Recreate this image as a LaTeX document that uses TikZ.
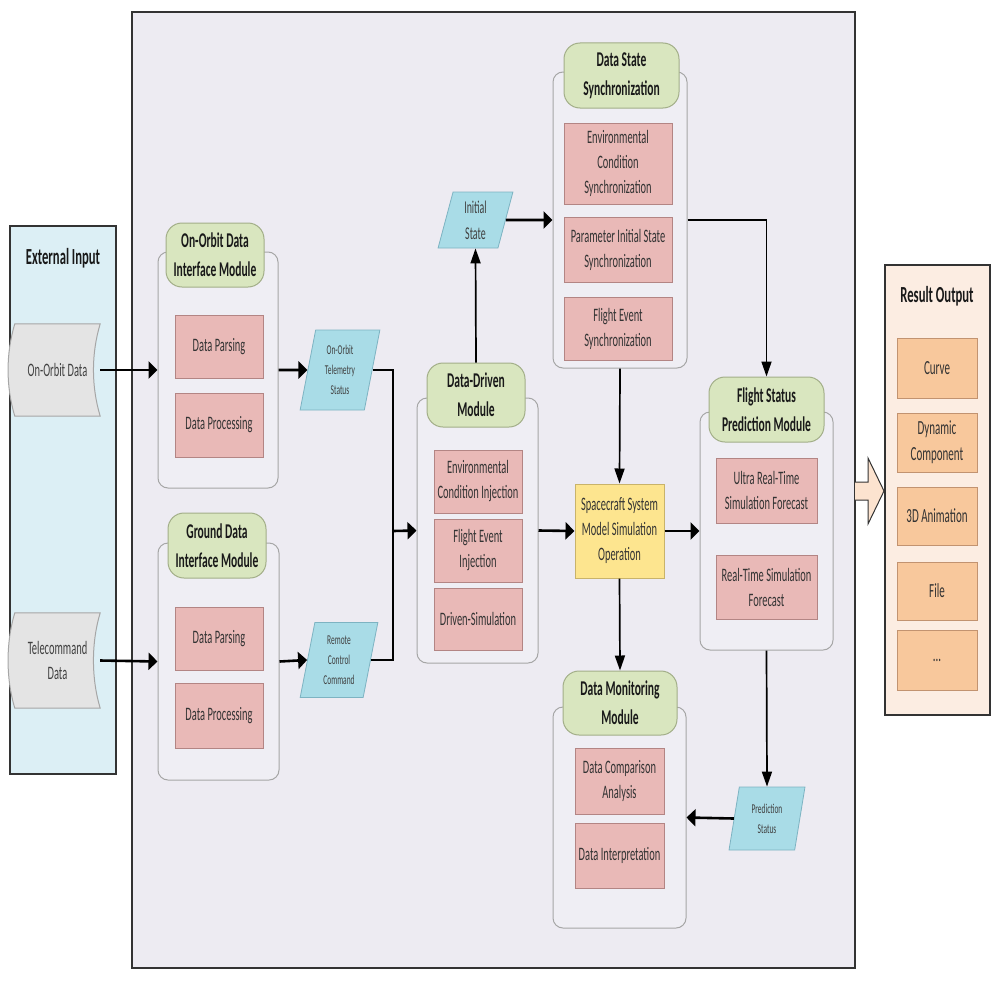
\documentclass[tikz,border=0pt]{standalone}
\usepackage{fontspec}
\setmainfont{Carlito}[FakeStretch=0.55]
\usetikzlibrary{arrows.meta,shapes.geometric,backgrounds}
\definecolor{extfill}{HTML}{DCEFF5}
\definecolor{mainfill}{HTML}{EDEBF2}
\definecolor{resfill}{HTML}{FCEDE2}
\definecolor{modfill}{HTML}{EFEEF4}
\definecolor{headfill}{HTML}{D9E6BF}
\definecolor{headline}{HTML}{A2AE88}
\definecolor{itemfill}{HTML}{E9B9B7}
\definecolor{itemline}{HTML}{B38584}
\definecolor{iofill}{HTML}{A9DCE7}
\definecolor{ioline}{HTML}{7DB3C2}
\definecolor{simfill}{HTML}{FDE58F}
\definecolor{simline}{HTML}{C9B36A}
\definecolor{outfill}{HTML}{F8C89C}
\definecolor{outborder}{HTML}{C29370}
\definecolor{tapefill}{HTML}{E4E4E4}
\definecolor{arrowfill}{HTML}{FCE3CF}
\newcommand{\fs}[2]{\fontsize{#1}{#2}\selectfont}
\tikzset{
  panel/.style     = {draw=black!80,line width=1.6pt},
  paneltitle/.style= {font=\bfseries\fs{23}{28},text=black!90},
  harr/.style      = {-{Triangle[length=9pt,width=17pt]},line width=2.6pt},
  varr/.style      = {-{Triangle[length=15pt,width=10pt]},line width=1.7pt},
  joinline/.style  = {line width=2.6pt},
  bigarrow/.style  = {draw=black!80,fill=arrowfill,line width=1pt},
  modframe/.style  = {draw=black!35,fill=modfill,rounded corners=10pt,line width=1pt,inner sep=0pt},
  modhead/.style   = {draw=headline,fill=headfill,rounded corners=16pt,line width=1pt,
                      align=center,inner sep=0pt,font=\bfseries\fs{21}{29},text=black!90},
  subbox/.style    = {draw=itemline,fill=itemfill,line width=1pt,align=center,inner sep=0pt,
                      font=\fs{19}{25},text=black!80},
  simbox/.style    = {subbox,draw=simline,fill=simfill},
  outbox/.style    = {subbox,draw=outborder,fill=outfill,font=\fs{20}{26}},
  dataio/.style    = {trapezium,trapezium left angle=79,trapezium right angle=101,
                      trapezium stretches=true,draw=ioline,fill=iofill,line width=0.8pt,
                      align=center,inner sep=0pt,font=\fs{13.5}{20},text=black!75},
  tapebox/.style   = {align=center,inner sep=0pt,font=\fs{19}{25},text=black!75},
  tapeline/.style  = {draw=black!35,fill=tapefill,line width=1pt}
}
\newcommand{\tapeshape}[1]{%
  \filldraw[tapeline] (#1.north west) .. controls +(-9pt,-30pt) and +(-9pt,30pt) .. (#1.south west)
    -- (#1.south east) .. controls +(-9pt,30pt) and +(-9pt,-30pt) .. (#1.north east) -- cycle;
}

\begin{document}
\begin{tikzpicture}[x=1pt,y=-1pt]
  \useasboundingbox (0,0) rectangle (1000,982);
  \begin{pgfonlayer}{background}
    \filldraw[panel,fill=extfill]  (10,226) rectangle (116,774);
    \filldraw[panel,fill=mainfill] (132,12) rectangle (855,968);
    \filldraw[panel,fill=resfill]  (885,265) rectangle (990,715);
  \end{pgfonlayer}
  \draw[bigarrow] (855,482) -- (868,482) -- (868,458) -- (884,491) -- (868,524) -- (868,500) -- (855,500);

  \node[paneltitle] (exttitle) at (63,258) {External Input};
  \node[tapebox,minimum width=85pt,minimum height=92pt] (orbdata) at (57.5,370) {On-Orbit Data};
  \node[tapebox,minimum width=85pt,minimum height=95pt] (tcdata) at (57.5,660.5) {Telecommand\\Data};
  \begin{pgfonlayer}{background}
    \tapeshape{orbdata}
    \tapeshape{tcdata}
  \end{pgfonlayer}

  \node[modframe,minimum width=120pt,minimum height=236pt] (orbmod) at (218,370) {};
  \node[modhead,minimum width=98pt,minimum height=64pt] (orbhead) at (215,255) {On-Orbit Data\\Interface Module};
  \node[subbox,minimum width=88pt,minimum height=63pt] (orbparse) at (219,346.5) {Data Parsing};
  \node[subbox,minimum width=88pt,minimum height=64pt] (orbproc) at (219,425) {Data Processing};

  \node[modframe,minimum width=121pt,minimum height=237pt] (gndmod) at (218.5,661.5) {};
  \node[modhead,minimum width=98pt,minimum height=65pt] (gndhead) at (217,545.5) {Ground Data\\Interface Module};
  \node[subbox,minimum width=88pt,minimum height=63pt] (gndparse) at (219,638.5) {Data Parsing};
  \node[subbox,minimum width=88pt,minimum height=65pt] (gndproc) at (219,715.5) {Data Processing};

  \node[dataio,minimum width=80pt,minimum height=80pt] (tmstat) at (340,370) {On-Orbit\\Telemetry\\Status};
  \node[dataio,minimum width=78pt,minimum height=75pt] (rcmd) at (339,660) {Remote\\Control\\Command};
  \coordinate (ddjoin) at (393,531);

  \node[modframe,minimum width=121pt,minimum height=265pt] (ddmod) at (477.5,530.5) {};
  \node[modhead,minimum width=98pt,minimum height=64pt] (ddhead) at (476,395) {Data-Driven\\Module};
  \node[subbox,minimum width=88pt,minimum height=63pt] (ddenv) at (478,481.5) {Environmental\\Condition Injection};
  \node[subbox,minimum width=88pt,minimum height=63pt] (ddflt) at (478,550.5) {Flight Event\\Injection};
  \node[subbox,minimum width=88pt,minimum height=62pt] (ddsim) at (478,619) {Driven-Simulation};

  \node[dataio,font=\fs{18}{26},minimum width=75pt,minimum height=56pt] (init) at (475.5,220) {Initial\\State};

  \node[modframe,minimum width=134pt,minimum height=296pt] (dssmod) at (620,220) {};
  \node[modhead,minimum width=115pt,minimum height=65pt] (dsshead) at (621.5,75.5) {Data State\\Synchronization};
  \node[subbox,minimum width=108pt,minimum height=81pt] (dssenv) at (618,163.5) {Environmental\\Condition\\Synchronization};
  \node[subbox,minimum width=108pt,minimum height=65pt] (dsspar) at (618,249.5) {Parameter Initial State\\Synchronization};
  \node[subbox,minimum width=108pt,minimum height=63pt] (dssflt) at (618,328.5) {Flight Event\\Synchronization};

  \node[simbox,minimum width=89pt,minimum height=94pt] (sim) at (619.5,531) {Spacecraft System\\Model Simulation\\Operation};

  \node[modframe,minimum width=133pt,minimum height=238pt] (fspmod) at (766.5,531) {};
  \node[modhead,minimum width=115pt,minimum height=65pt] (fsphead) at (766.5,409.5) {Flight Status\\Prediction Module};
  \node[subbox,minimum width=101pt,minimum height=65pt] (fspultra) at (766.5,490.5) {Ultra Real-Time\\Simulation Forecast};
  \node[subbox,minimum width=101pt,minimum height=64pt] (fspreal) at (766.5,587) {Real-Time Simulation\\Forecast};

  \node[modframe,minimum width=133pt,minimum height=221pt] (dmmod) at (619.5,817.5) {};
  \node[modhead,minimum width=114pt,minimum height=64pt] (dmhead) at (620,703) {Data Monitoring\\Module};
  \node[subbox,minimum width=89pt,minimum height=66pt] (dmcmp) at (619.5,781) {Data Comparison\\Analysis};
  \node[subbox,minimum width=89pt,minimum height=65pt] (dmint) at (619.5,855.5) {Data Interpretation};

  \node[dataio,minimum width=76pt,minimum height=63pt] (pred) at (767,818.5) {Prediction\\Status};

  \node[paneltitle] (restitle) at (937,296) {Result Output};
  \node[outbox,minimum width=80pt,minimum height=60pt] (curve) at (937,368) {Curve};
  \node[outbox,minimum width=80pt,minimum height=59pt] (dyncomp) at (937,442.5) {Dynamic\\Component};
  \node[outbox,minimum width=80pt,minimum height=58pt] (anim) at (937,516) {3D Animation};
  \node[outbox,minimum width=80pt,minimum height=58pt] (file) at (937,591) {File};
  \node[outbox,minimum width=80pt,minimum height=60pt] (more) at (937,660) {...};

  \draw[harr] (orbdata.east) -- (orbmod.west);
  \draw[harr] (tcdata.east) -- (gndmod.west);
  \draw[harr] (orbmod.east) -- (tmstat.west);
  \draw[harr] (gndmod.east) -- (rcmd.west);
  \draw[joinline] (tmstat.east) -| (ddjoin);
  \draw[joinline] (rcmd.east) -| (ddjoin);
  \draw[harr] (ddjoin) -- (ddmod.west);
  \draw[harr] (ddmod.east) -- (sim.west);
  \draw[varr] (ddhead.north) -- (init.south);
  \draw[harr] (init.east) -- (dssmod.west);
  \draw[varr] (dssmod.east) -| (fsphead.north);
  \draw[varr] (dssmod.south) -- (sim.north);
  \draw[harr] (sim.east) -- (fspmod.west);
  \draw[varr] (sim.south) -- (dmhead.north);
  \draw[varr] (fspmod.south) -- (pred.north);
  \draw[harr] (pred.west) -- (dmmod.east);
\end{tikzpicture}
\end{document}
